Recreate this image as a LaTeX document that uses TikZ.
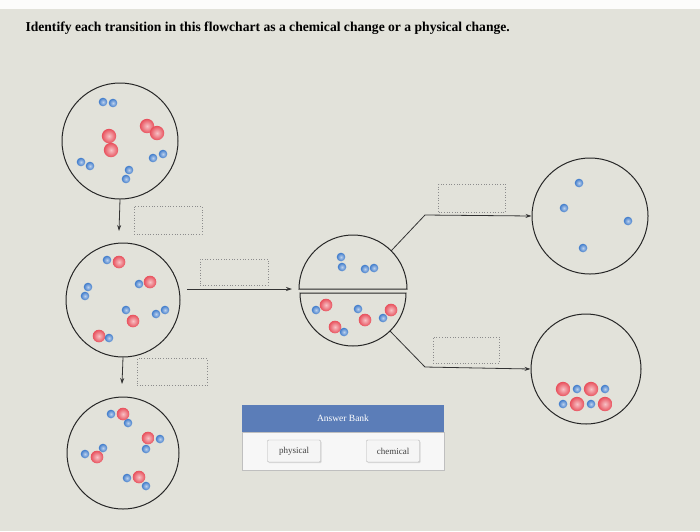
\documentclass[tikz,border=0pt]{standalone}
\usepackage{fontspec}
\setmainfont{Liberation Serif}
\usetikzlibrary{arrows.meta,shadows}
\definecolor{bg}{HTML}{E2E2DA}
\definecolor{ablue}{HTML}{3F7BCB}
\definecolor{ared}{HTML}{E8505C}
\definecolor{hdr}{HTML}{5B7DB8}
\tikzset{
  vessel/.style={circle,draw=black!85,line width=1pt,inner sep=0pt},
  flow/.style={draw=black!80,line width=0.8pt,-{Stealth[length=6pt,width=4pt]}},
  blank/.style={draw=black!45,dotted,line width=0.7pt,inner sep=0pt},
  btn/.style={draw=black!30,fill=black!4,rounded corners=1pt,inner sep=0pt,minimum width=53pt,minimum height=22pt,font=\fontsize{9}{10}\selectfont,text=black!75,drop shadow={shadow xshift=1pt,shadow yshift=-1pt,opacity=0.25}},
  bball/.style={inner color=ablue!35!white,outer color=ablue},
  rball/.style={inner color=ared!35!white,outer color=ared}
}
\newcommand{\bA}[2]{\shade[bball] (#1,#2) circle (4.3);}
\newcommand{\rA}[2]{\shade[rball] (#1,#2) circle (6.3);}
\newcommand{\RA}[2]{\shade[rball] (#1,#2) circle (7.2);}
\begin{document}
\begin{tikzpicture}[x=1pt,y=-1pt]
\fill[bg] (0,0) rectangle (700,531);
\fill[white!90!bg] (0,0) rectangle (700,9);
\node[anchor=west,font=\bfseries\fontsize{13.6}{15}\selectfont] (title) at (22,28) {Identify each transition in this flowchart as a chemical change or a physical change.};
% vessels
\node[vessel,minimum size=116pt] (c1) at (120,141) {};
\node[vessel,minimum size=114pt] (c2) at (123,300) {};
\node[vessel,minimum size=112pt] (c3) at (123,453) {};
\node[vessel,minimum size=116pt] (r1) at (590,216) {};
\node[vessel,minimum size=110pt] (r2) at (586,369) {};
% split vessel
\draw[black!85,line width=1pt] (299,289) arc[start angle=180,end angle=0,x radius=54,y radius=-54] -- cycle;
\draw[black!85,line width=1pt] (300,293) arc[start angle=180,end angle=360,x radius=53,y radius=-53] -- cycle;
\coordinate (su) at (391,251);
\coordinate (sd) at (390,331);
% arrows
\coordinate (a1e) at (119,231);
\coordinate (a2e) at (122,384);
\coordinate (hs) at (187,289);
\coordinate (he) at (292,289);
\draw[flow] (c1.south) -- (a1e);
\draw[flow] (c2.south) -- (a2e);
\draw[flow] (hs) -- (he);
\draw[flow] (su) -- (425,215) -- (r1.west);
\draw[flow] (sd) -- (425,367) -- (r2.west);
% blanks
\node[blank,minimum width=68pt,minimum height=28pt] (b1) at (168,220) {};
\node[blank,minimum width=68pt,minimum height=26pt] (b2) at (234,272) {};
\node[blank,minimum width=70pt,minimum height=27pt] (b3) at (172,372) {};
\node[blank,minimum width=67pt,minimum height=28pt] (b4) at (472,198) {};
\node[blank,minimum width=66pt,minimum height=26pt] (b5) at (466,350) {};
% molecules c1
\bA{103}{102}\bA{113}{103}
\RA{109}{136}\RA{111}{150}
\RA{147}{126}\RA{157}{133}
\bA{81}{162}\bA{90}{166}
\bA{153}{158}\bA{163}{154}
\bA{129}{170}\bA{126}{179}
% c2
\bA{107}{260}\rA{119}{262}
\bA{88}{287}\bA{85}{296}
\bA{139}{284}\rA{150}{282}
\bA{126}{310}\rA{133}{321}
\bA{156}{314}\bA{165}{310}
\rA{99}{336}\bA{109}{338}
% split top
\bA{341}{257}\bA{342}{267}
\bA{365}{269}\bA{374}{268}
% split bottom
\bA{316}{310}\rA{326}{305}
\rA{335}{327}\bA{344}{332}
\bA{358}{309}\rA{365}{320}
\rA{391}{310}\bA{383}{318}
% r1
\bA{579}{183}\bA{564}{208}\bA{628}{221}\bA{583}{248}
% r2 lattice
\RA{563}{389}\bA{577}{389}\RA{591}{389}\bA{605}{389}
\bA{563}{404}\RA{577}{404}\bA{591}{404}\RA{605}{404}
% c3
\bA{111}{414}\bA{128}{423}\rA{123}{414}
\bA{160}{439}\bA{146}{449}\rA{148}{438}
\bA{85}{454}\bA{103}{448}\rA{97}{457}
\bA{127}{478}\bA{146}{486}\rA{139}{477}
% answer bank
\node[draw=black!25,fill=black!3,minimum width=202pt,minimum height=38pt,inner sep=0pt] (bank) at (343,451) {};
\node[fill=hdr,minimum width=202pt,minimum height=27pt,inner sep=0pt,text=white,font=\fontsize{9.5}{11}\selectfont] (head) at (343,418.5) {Answer Bank};
\node[btn] (phys) at (294,451) {physical};
\node[btn] (chem) at (393,451) {chemical};
\end{tikzpicture}
\end{document}
